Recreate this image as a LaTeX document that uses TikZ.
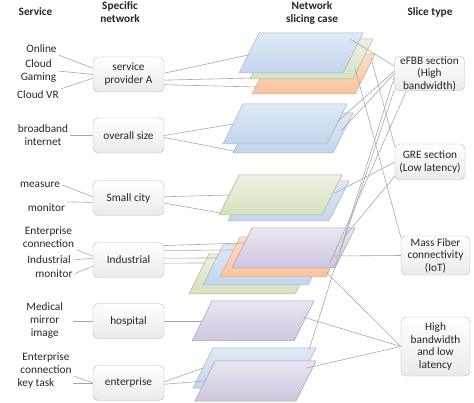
\documentclass[tikz,border=0pt]{standalone}
\usepackage{fontspec}
\setmainfont{Carlito}

\definecolor{txt}{HTML}{262626}
\definecolor{linkgray}{HTML}{A8A8A8}
\definecolor{sbT}{HTML}{E0E9F5}
\definecolor{sbB}{HTML}{C3D6EC}
\definecolor{sbD}{HTML}{A0B6CE}
\definecolor{sgT}{HTML}{EDF1E2}
\definecolor{sgB}{HTML}{D6E2BE}
\definecolor{sgD}{HTML}{B0BA98}
\definecolor{soT}{HTML}{FCDDC6}
\definecolor{soB}{HTML}{F8C49E}
\definecolor{soD}{HTML}{D8AA8C}
\definecolor{spT}{HTML}{EAE5F1}
\definecolor{spB}{HTML}{CFC6DE}
\definecolor{spD}{HTML}{A99FBE}

\begin{document}
\begin{tikzpicture}[x=1pt,y=-1pt]
	\tikzset{
		every node/.style={font=\fontsize{11.3}{13}\selectfont, text=txt},
		head/.style={font=\fontsize{11.3}{13}\selectfont\bfseries, align=center},
		svc/.style={align=center, inner sep=2pt},
		netbox/.style={draw=gray!55, rounded corners=5pt, top color=white, bottom color=gray!16,
			minimum width=71pt, minimum height=35pt, align=center, inner sep=1pt},
		typebox/.style={netbox, font=\fontsize{11.3}{12.6}\selectfont, minimum width=70pt, inner ysep=0pt},
		link/.style={draw=linkgray, line width=0.6pt},
		slicebox/.style={line width=0.5pt}
	}
	\useasboundingbox (0,0) rectangle (474,403);
	
	% column heads
	\node[head] (hService) at (35.5,12) {Service};
	\node[head] (hNet) at (120,12) {Specific\\network};
	\node[head] (hCase) at (312,12.5) {Network\\slicing case};
	\node[head] (hType) at (430,12) {Slice type};
	
	% services
	\node[svc] (sOnline) at (41.5,49) {Online};
	\node[svc] (sGaming) at (38.5,71) {Cloud\\Gaming};
	\node[svc] (sVR) at (38,95) {Cloud VR};
	\node[svc] (sBroad) at (43,135.5) {broadband\\internet};
	\node[svc] (sMeasure) at (40,185) {measure};
	\node[svc] (sMonitor) at (46.5,208) {monitor};
	\node[svc] (sEntConn) at (48.5,237) {Enterprise\\connection};
	\node[svc] (sIndustrial) at (49,260) {Industrial};
	\node[svc] (sIndMon) at (54,273.5) {monitor};
	\node[svc] (sMedical) at (44.7,321) {Medical\\mirror\\image};
	\node[svc] (sEntConn2) at (46,363.5) {Enterprise\\connection};
	\node[svc] (sKeyTask) at (36,383) {key task};
	
	% specific networks
	\node[netbox] (nA) at (128.5,74.5) {service\\provider A};
	\node[netbox] (nB) at (128.5,135.5) {overall size};
	\node[netbox] (nC) at (128.5,198) {Small city};
	\node[netbox] (nD) at (128.5,260) {Industrial};
	\node[netbox] (nE) at (128.5,321) {hospital};
	\node[netbox] (nF) at (128.5,383) {enterprise};
	
	% slice types
	\node[typebox, minimum height=33pt] (tE) at (429.5,73.5) {eFBB section\\(High\\bandwidth)};
	\node[typebox, minimum height=36pt] (tG) at (430,162) {GRE section\\(Low latency)};
	\node[typebox, minimum height=39pt, minimum width=69pt] (tM) at (435.5,255.5) {Mass Fiber\\connectivity\\(IoT)};
	\node[typebox, minimum height=59pt, minimum width=69pt] (tH) at (435.5,346.5) {High\\bandwidth\\and low\\latency};
	
	% slicing cases, back to front
	\foreach \x/\y/\w/\col in {252/94/103/so, 250/79/103/sg, 239/73/104/sb,
		233/153/100/sb, 223/144/104/sb,
		228/221/101/sb, 219/215/103/sg,
		189/294/106/sg, 203/285/105/sb, 220/277/106/so, 232/268/103/sp,
		192/341/102/sp,
		193/388/103/sb, 195/401/101/sp}
	\draw[slicebox, draw=\col D, top color=\col T, bottom color=\col B]
		(\x,\y) -- ++(\w,0) -- ++(20,-40) -- ++(-\w,0) -- cycle;
	
	\coordinate (s1b-w) at (248,55);
	\coordinate (s1g-w) at (251,78);
	\coordinate (s1o-w) at (256,87);
	\coordinate (s2f-w) at (233,124);
	\coordinate (s2r-w) at (234,151);
	\coordinate (s3f-w) at (229,195);
	\coordinate (s3-low) at (220,213);
	\coordinate (s4p-w) at (244,243);
	\coordinate (s4o-w) at (233,250);
	\coordinate (s4b-w) at (217,258);
	\coordinate (s4g-w) at (205,263);
	\coordinate (s5p-w) at (202,321);
	\coordinate (s6b-w) at (203,368);
	\coordinate (s6p-w) at (205,381);
	
	\coordinate (s1b-e) at (350,39);
	\coordinate (s1g-e) at (355,68);
	\coordinate (s1o-e) at (371,58);
	\coordinate (s2f-e) at (337,122);
	\coordinate (s2r-e) at (341,131);
	\coordinate (s3r-e) at (335,193);
	\coordinate (s4p-e1) at (345,236);
	\coordinate (s4p-e2) at (340,252);
	\coordinate (s4p-e3) at (333,256);
	\coordinate (s4b-e) at (330,263);
	\coordinate (s4o-e) at (326,272);
	\coordinate (s5p-e) at (303,317);
	\coordinate (s6b-e) at (309,350);
	\coordinate (s6p-e) at (307,368);
	
	% services -> networks
	\draw[link] (sOnline.south east) -- (nA.170);
	\draw[link] (sGaming.east) -- (nA.180);
	\draw[link] (sVR.north east) -- (nA.186);
	\draw[link] (sBroad.east) -- (nB.180);
	\draw[link] (sMeasure.east) -- (nC.178);
	\draw[link] (sMonitor.north east) -- (nC.187);
	\draw[link] (sEntConn.south east) -- (nD.174);
	\draw[link] (sIndustrial.east) -- (nD.177);
	\draw[link] (sIndMon.east) -- (nD.190);
	\draw[link] ([xshift=8pt]sMedical.east) -- (nE.180);
	\draw[link] (sEntConn2.south east) -- (nF.180);
	\draw[link] ([xshift=16pt]sKeyTask.east) -- (nF.180);
	
	% networks -> slices
	\draw[link] (nA.2) -- (s1b-w);
	\draw[link] (nA.-9) -- (s1g-w);
	\draw[link] (nA.-16) -- (s1o-w);
	\draw[link] (nB.east) -- (s2f-w);
	\draw[link] (nB.-3) -- (s2r-w);
	\draw[link] (nC.2) -- (s3f-w);
	\draw[link] (nC.-8) -- (s3-low);
	\draw[link] (nD.22) -- (s4p-w);
	\draw[link] (nD.15) -- (s4o-w);
	\draw[link] (nD.3) -- (s4b-w);
	\draw[link] (nD.-5) -- (s4g-w);
	\draw[link] (nE.east) -- (s5p-w);
	\draw[link] (nF.2) -- (s6b-w);
	\draw[link] (nF.-2) -- (s6p-w);
	
	% slices -> slice types
	\draw[link] (s1b-e) -- (tE.168);
	\draw[link] (s2f-e) -- (tE.176);
	\draw[link] (s2r-e) -- (tE.180);
	\draw[link] (s6b-e) -- (tE.186);
	\draw[link] (s4p-e2) -- (tE.205);
	\draw[link] (s4b-e) -- (tE.217);
	\draw[link] (s1o-e) -- (tG.156);
	\draw[link] (s3r-e) -- (tG.180);
	\draw[link] (s4p-e1) -- (tG.202);
	\draw[link] (s1g-e) -- (tM.152);
	\draw[link] (s4p-e3) -- (tM.west);
	\draw[link] (s4o-e) -- (tH.west);
	\draw[link] (s5p-e) -- (tH.west);
	\draw[link] (s6p-e) -- (tH.west);
	
\end{tikzpicture}
\end{document}
